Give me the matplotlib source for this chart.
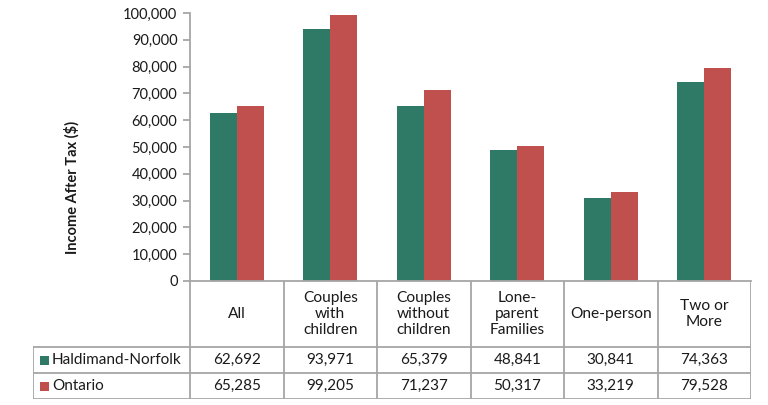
import matplotlib
matplotlib.use("Agg")
import matplotlib.pyplot as plt
from matplotlib.patches import Rectangle

categories = ["All", "Couples\nwith\nchildren", "Couples\nwithout\nchildren",
              "Lone-\nparent\nFamilies", "One-person", "Two or\nMore"]
series_names = ["Haldimand-Norfolk", "Ontario"]
haldimand = [62692, 93971, 65379, 48841, 30841, 74363]
ontario = [65285, 99205, 71237, 50317, 33219, 79528]
colors = ["#2E7A66", "#C0504D"]
yticks = list(range(0, 100001, 10000))

plt.rcParams['font.family'] = ['Lato', 'DejaVu Sans']
W, H = 768, 405
fig = plt.figure(figsize=(W / 100, H / 100), dpi=100)

def fx(px):
    return px / W

def fy(py):
    return 1 - py / H

grid_col = "#A6A6A6"
txt_col = "#1a1a1a"
lw = 1.3

# main axes
x0, x1 = 190, 751
y_top, y_zero = 13, 281
ax = fig.add_axes([fx(x0), fy(y_zero), fx(x1) - fx(x0), fy(y_top) - fy(y_zero)])
n = len(categories)
bw = 0.29
xs = list(range(n))
ax.bar([x - bw / 2 for x in xs], haldimand, width=bw, color=colors[0])
ax.bar([x + bw / 2 for x in xs], ontario, width=bw, color=colors[1])
ax.set_xlim(-0.5, n - 0.5)
ax.set_ylim(0, 100000)
ax.set_yticks(yticks)
ax.set_yticklabels([f"{v:,}" for v in yticks], fontsize=10.5, color=txt_col)
ax.tick_params(axis='y', length=5, width=lw, color=grid_col, pad=4)
ax.set_xticks([])
for s in ["top", "right"]:
    ax.spines[s].set_visible(False)
for s in ["left", "bottom"]:
    ax.spines[s].set_color(grid_col)
    ax.spines[s].set_linewidth(lw)
ax.patch.set_alpha(0)

fig.text(fx(72), fy(187), "Income After Tax ($)", rotation=90, ha="center",
         va="center", fontsize=10.5, fontweight="bold", color=txt_col)

# table axes
tl, tr, tt, tb = 33, 751, 281, 399
colw = (x1 - x0) / n
label_units = (x0 - tl) / colw
tax = fig.add_axes([fx(tl), fy(tb), fx(tr) - fx(tl), fy(tt) - fy(tb)])
tax.set_xlim(-0.5 - label_units, n - 0.5)
tax.set_ylim(tb, tt)
tax.axis("off")
row1, row2 = 347, 373
left = -0.5 - label_units
right = n - 0.5
kw = dict(color=grid_col, lw=lw, solid_capstyle="projecting")
for i in range(n + 1):
    tax.plot([i - 0.5, i - 0.5], [tt, tb], **kw)
tax.plot([left, right], [row1, row1], **kw)
tax.plot([left, right], [row2, row2], **kw)
tax.plot([left, right], [tb, tb], **kw)
tax.plot([left, left], [row1, tb], **kw)

for i, c in enumerate(categories):
    tax.text(i, (tt + row1) / 2, c, ha="center", va="center", fontsize=11.2,
             color=txt_col, linespacing=1.22)
for r, (name, vals, col, yc) in enumerate(zip(series_names, [haldimand, ontario], colors,
                                              [(row1 + row2) / 2, (row2 + tb) / 2])):
    sq = 9 / colw
    tax.add_patch(Rectangle((left + 7 / colw, yc - 4.5), sq, 9, color=col, lw=0))
    tax.text(left + 19 / colw, yc, name, ha="left", va="center", fontsize=11, color=txt_col)
    for i, v in enumerate(vals):
        tax.text(i, yc, f"{v:,}", ha="center", va="center", fontsize=11, color=txt_col)

fig.savefig("out.png", dpi=100)
